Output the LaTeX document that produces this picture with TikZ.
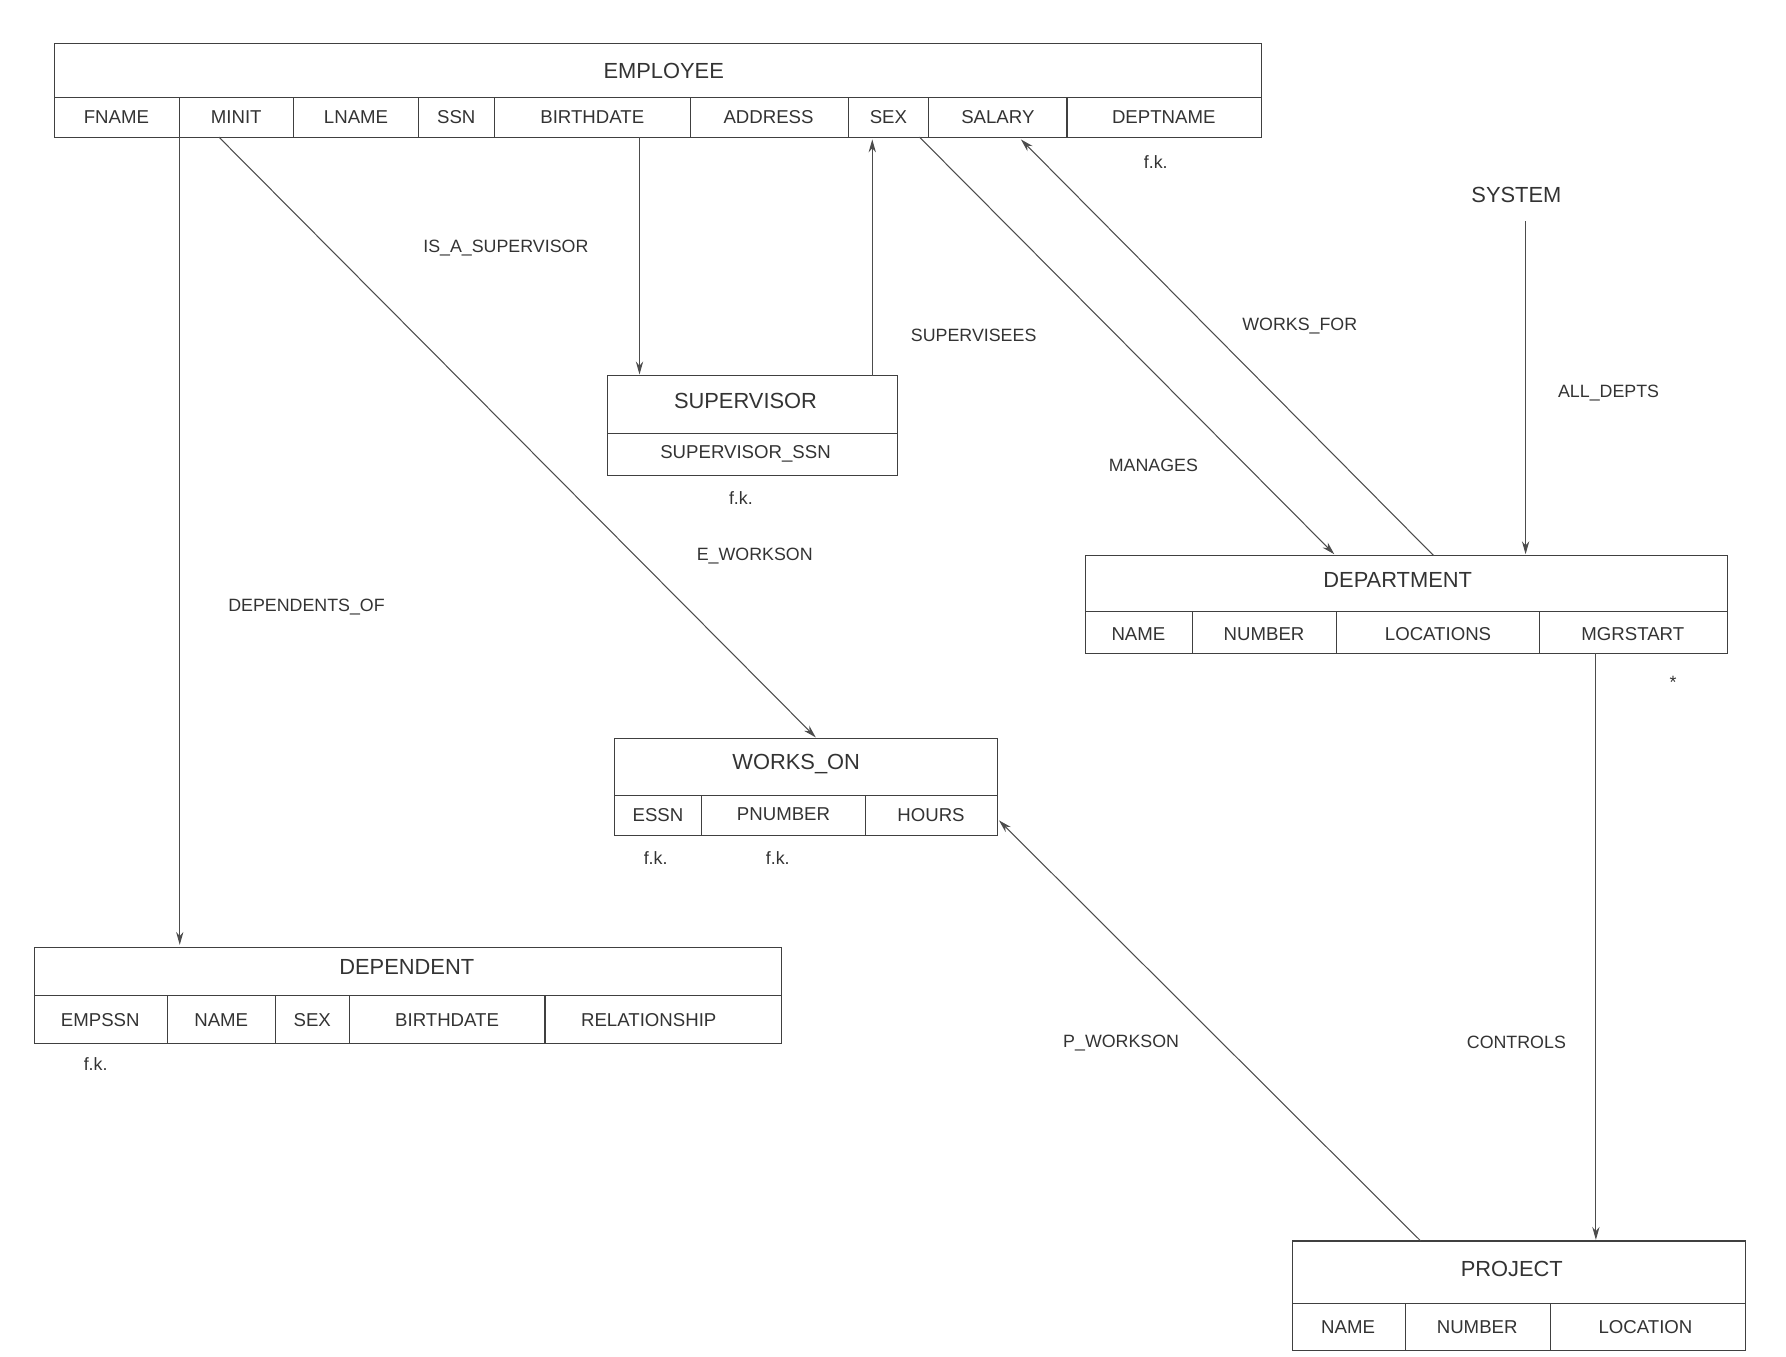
\documentclass[tikz,border=0pt]{standalone}
\usepackage{fontspec}
\setmainfont{Liberation Sans}
\usetikzlibrary{arrows.meta}
\begin{document}
\begin{tikzpicture}[x=0.05cm,y=-0.05cm,
  box/.style={draw=black!75,line width=1.3pt},
  attr/.style={font=\fontsize{23}{26}\selectfont,text=black!80,inner sep=0},
  head/.style={font=\fontsize{27}{30}\selectfont,text=black!80,inner sep=0},
  lbl/.style={font=\fontsize{22}{26}\selectfont,text=black!80,inner sep=0},
  conn/.style={draw=black!70,line width=1.3pt,-{Stealth[length=16pt,width=9pt]}}]
\useasboundingbox (0,0) rectangle (1550,1177);
% EMPLOYEE
\draw[box] (47,38) rectangle (1095,119); \draw[box] (47,85) -- (1095,85);
\foreach \x in {156,255,363,429,599,736,806,926} \draw[box] (\x,85)--(\x,119);
\node[head] (emp) at (576,62) {EMPLOYEE};
\foreach \x/\t in {101/FNAME,205/MINIT,309/LNAME,396/SSN,514/BIRTHDATE,667/ADDRESS,771/SEX,866/SALARY,1010/DEPTNAME}
  \node[attr] at (\x,102) {\t};
\node[lbl] (fk1) at (1003,141) {f.k.};
% SUPERVISOR
\draw[box] (527,326) rectangle (779,413); \draw[box] (527,376)--(779,376);
\node[head] (sup) at (647,348) {SUPERVISOR};
\node[attr] at (647,394) {SUPERVISOR\_SSN};
\node[lbl] (fk2) at (643,432) {f.k.};
% WORKS_ON
\draw[box] (533,641) rectangle (866,725); \draw[box] (533,690)--(866,690);
\foreach \x in {609,751} \draw[box] (\x,690)--(\x,725);
\node[head] (won) at (691,663) {WORKS\_ON};
\foreach \x/\t in {571/ESSN,680/PNUMBER,808/HOURS} \node[attr] at (\x,707) {\t};
\node[lbl] (fk3) at (569,745) {f.k.};
\node[lbl] (fk4) at (675,745) {f.k.};
% DEPENDENT
\draw[box] (30,822) rectangle (678,906); \draw[box] (30,864)--(678,864);
\foreach \x in {145,239,303,473} \draw[box] (\x,864)--(\x,906);
\node[head] (dep) at (353,839) {DEPENDENT};
\foreach \x/\t in {87/EMPSSN,192/NAME,271/SEX,388/BIRTHDATE,563/RELATIONSHIP} \node[attr] at (\x,885) {\t};
\node[lbl] (fk5) at (83,923) {f.k.};
% DEPARTMENT
\draw[box] (942,482) rectangle (1499,567); \draw[box] (942,531)--(1499,531);
\foreach \x in {1035,1160,1336} \draw[box] (\x,531)--(\x,567);
\node[head] (dpt) at (1213,503) {DEPARTMENT};
\foreach \x/\t in {988/NAME,1097/NUMBER,1248/LOCATIONS,1417/MGRSTART} \node[attr] at (\x,550) {\t};
\node[lbl] (star) at (1452,592) {*};
% PROJECT
\draw[box] (1122,1077) rectangle (1515,1172); \draw[box] (1122,1131)--(1515,1131);
\foreach \x in {1220,1346} \draw[box] (\x,1131)--(\x,1172);
\node[head] (prj) at (1312,1101) {PROJECT};
\foreach \x/\t in {1170/NAME,1282/NUMBER,1428/LOCATION} \node[attr] at (\x,1152) {\t};
% SYSTEM
\node[head] (sys) at (1316,169) {SYSTEM};
% connector endpoints
\coordinate (a1) at (156,119); \coordinate (a2) at (156,820);
\coordinate (b1) at (190,119); \coordinate (b2) at (708,640);
\coordinate (c1) at (555,119); \coordinate (c2) at (555,325);
\coordinate (d1) at (757,326); \coordinate (d2) at (757,121);
\coordinate (e1) at (798,119); \coordinate (e2) at (1158,481);
\coordinate (f1) at (1244,482); \coordinate (f2) at (886,121);
\coordinate (g1) at (1324,192); \coordinate (g2) at (1324,481);
\coordinate (h1) at (1385,567); \coordinate (h2) at (1385,1076);
\coordinate (i1) at (1233,1077); \coordinate (i2) at (867,712);
\draw[conn] (a1)--(a2); \draw[conn] (b1)--(b2); \draw[conn] (c1)--(c2);
\draw[conn] (d1)--(d2); \draw[conn] (e1)--(e2); \draw[conn] (f1)--(f2);
\draw[conn] (g1)--(g2); \draw[conn] (h1)--(h2); \draw[conn] (i1)--(i2);
% labels
\node[lbl] at (266,527) {DEPENDENTS\_OF};
\node[lbl] at (655,483) {E\_WORKSON};
\node[lbl] at (439,215) {IS\_A\_SUPERVISOR};
\node[lbl] at (845,291) {SUPERVISEES};
\node[lbl] at (1001,404) {MANAGES};
\node[lbl] at (1128,283) {WORKS\_FOR};
\node[lbl] at (1396,341) {ALL\_DEPTS};
\node[lbl] at (1316,905) {CONTROLS};
\node[lbl] at (973,905) {P\_WORKSON};
\end{tikzpicture}
\end{document}
